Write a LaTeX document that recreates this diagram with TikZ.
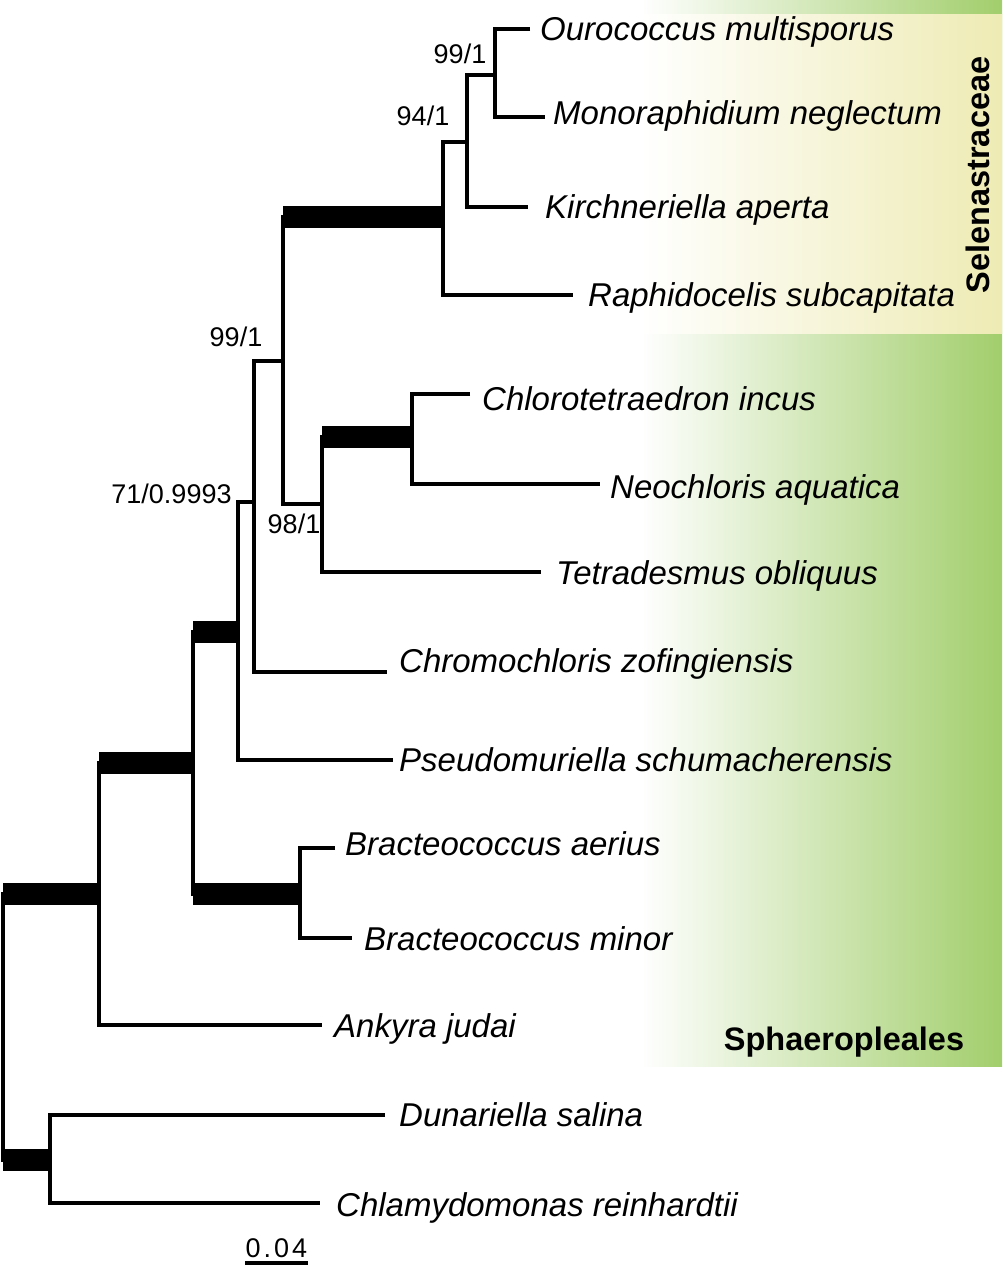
\documentclass[tikz,border=0pt]{standalone}
\usepackage{fontspec}
\setmainfont{Liberation Sans}
\definecolor{sgreen}{HTML}{A2CE6C}
\definecolor{syellow}{HTML}{EEEBB4}
\begin{document}
\begin{tikzpicture}[x=1pt,y=-1pt,
  branch/.style={line width=3.2pt, line join=miter, line cap=butt},
  thickbar/.style={line width=22pt, line cap=butt},
  leaf/.style={anchor=base west, inner sep=0pt,
    font=\fontsize{33}{40}\selectfont\itshape},
  support/.style={anchor=base, inner sep=0pt, font=\fontsize{27}{31}\selectfont},
  clade/.style={inner sep=0pt, font=\fontsize{32.5}{39}\selectfont\bfseries}]
\useasboundingbox (0,0) rectangle (1002,1266);
% backgrounds
\shade[left color=white, right color=sgreen] (640,0) rectangle (1002,1066);
\shade[left color=white, right color=syellow] (640,14) rectangle (1002,333);

% leaf labels
\node[leaf] (ouro)   at (540,40)   {Ourococcus multisporus};
\node[leaf] (mono)   at (553,124)  {Monoraphidium neglectum};
\node[leaf] (kirch)  at (545,218)  {Kirchneriella aperta};
\node[leaf] (raph)   at (588,306)  {Raphidocelis subcapitata};
\node[leaf] (chloro) at (482,410)  {Chlorotetraedron incus};
\node[leaf] (neo)    at (610,498)  {Neochloris aquatica};
\node[leaf] (tetra)  at (556,584)  {Tetradesmus obliquus};
\node[leaf] (chromo) at (399,672)  {Chromochloris zofingiensis};
\node[leaf] (pseudo) at (399,771)  {Pseudomuriella schumacherensis};
\node[leaf] (baer)   at (345,855)  {Bracteococcus aerius};
\node[leaf] (bmin)   at (364,950)  {Bracteococcus minor};
\node[leaf] (ank)    at (334,1037) {Ankyra judai};
\node[leaf] (dun)    at (399,1126) {Dunariella salina};
\node[leaf] (chlam)  at (336,1216) {Chlamydomonas reinhardtii};

% leaf branch ends
\coordinate (ouroE)   at (530,29);
\coordinate (monoE)   at (545,117);
\coordinate (kirchE)  at (528,207);
\coordinate (raphE)   at (573,295);
\coordinate (chloroE) at (470,394);
\coordinate (neoE)    at (600,484);
\coordinate (tetraE)  at (541,572);
\coordinate (chromoE) at (387,672);
\coordinate (pseudoE) at (393,760);
\coordinate (baerE)   at (335,848);
\coordinate (bminE)   at (352,938);
\coordinate (ankE)    at (322,1025);
\coordinate (dunE)    at (385,1115);
\coordinate (chlamE)  at (320,1203);

% internal nodes
\coordinate (J) at (495,75);
\coordinate (I) at (467,142);
\coordinate (H) at (443,217);
\coordinate (G) at (412,437);
\coordinate (F) at (322,504);
\coordinate (E) at (283,361);
\coordinate (D) at (254,502);
\coordinate (C) at (238,632);
\coordinate (Br) at (300,894);
\coordinate (B) at (193,763);
\coordinate (A) at (99,894);
\coordinate (K) at (50,1160);
\coordinate (R) at (3,1027);

% thin branches
\draw[branch] (ouroE) -| (J) |- (monoE);
\draw[branch] (J) -| (I) |- (kirchE);
\draw[branch] (I) -| (H) |- (raphE);
\draw[branch] (chloroE) -| (G) |- (neoE);
\draw[branch] (G) -| (F) |- (tetraE);
\draw[branch] (H) -| (E) |- (F);
\draw[branch] (E) -| (D) |- (chromoE);
\draw[branch] (D) -| (C) |- (pseudoE);
\draw[branch] (baerE) -| (Br) |- (bminE);
\draw[branch] (C) -| (B) |- (Br);
\draw[branch] (B) -| (A) |- (ankE);
\draw[branch] (A) -| (R) |- (K);
\draw[branch] (dunE) -| (K) |- (chlamE);

% thick branches
\draw[thickbar] (E |- H) -- (H);
\draw[thickbar] (F |- G) -- (G);
\draw[thickbar] (B |- C) -- (C);
\draw[thickbar] (A |- B) -- (B);
\draw[thickbar] (B |- Br) -- (Br);
\draw[thickbar] (R |- A) -- (A);
\draw[thickbar] (R |- K) -- (K);

% support values
\node[support] (sJ) at (460,63)  {99/1};
\node[support] (sI) at (423,125) {94/1};
\node[support] (sD) at (236,346) {99/1};
\node[support] (sC) at (171.5,503) {71/0.9993};
\node[support] (sF) at (294,533) {98/1};

% clade labels
\node[clade, rotate=90] (sel) at (978,175) {Selenastraceae};
\node[clade, anchor=base] (sph) at (844,1050) {Sphaeropleales};

% scale bar
\coordinate (sbL) at (245,1263);
\coordinate (sbR) at (308,1263);
\draw[branch] (sbL) -- (sbR);
\node[support] (sbt) at (276.5,1257) {0\hspace{3pt}.\hspace{3pt}0\hspace{3pt}4};
\end{tikzpicture}
\end{document}
